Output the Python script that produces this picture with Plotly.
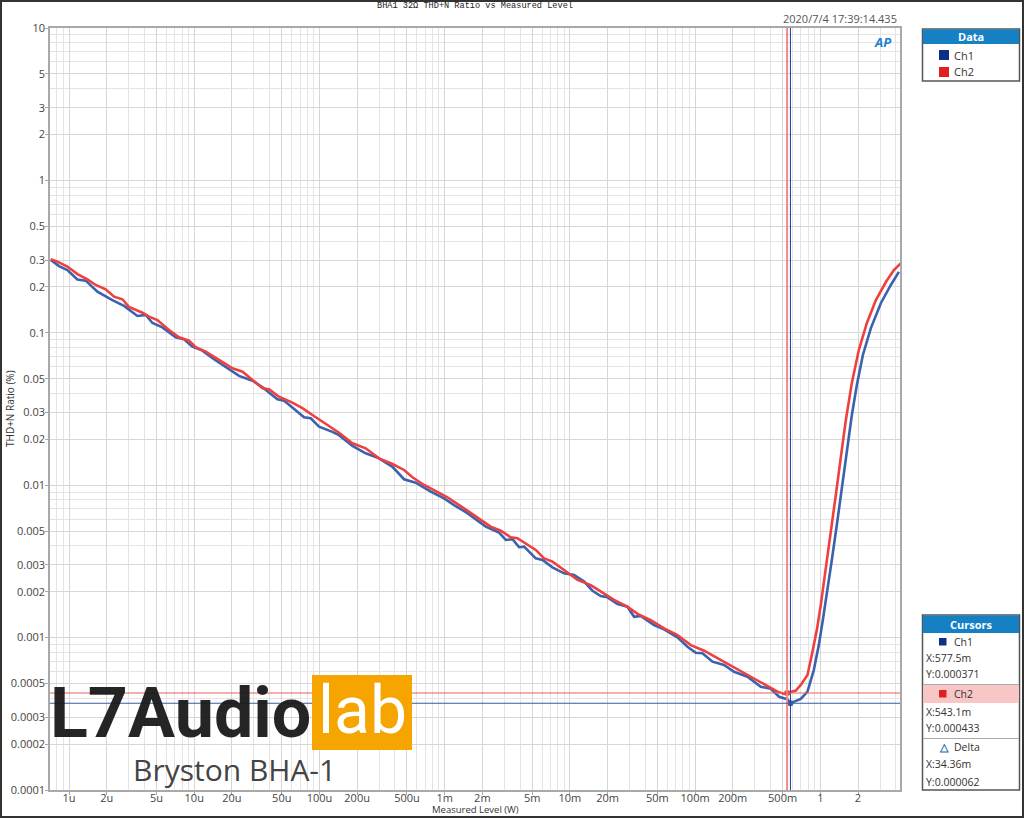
import plotly.graph_objects as go
import math

# ---------------- data ----------------
ch1_level = [7.14e-7, 8.32e-7, 9.71e-7, 1.167e-6, 1.36e-6, 1.686e-6, 2.22e-6, 2.75e-6, 3.52e-6, 4.10e-6,
             4.64e-6, 5.57e-6, 7.11e-6, 8.29e-6, 9.67e-6, 1.163e-5, 1.439e-5, 1.785e-5, 2.28e-5, 2.92e-5,
             3.51e-5, 4.62e-5, 5.22e-5, 6.08e-5, 7.53e-5, 8.52e-5, 9.93e-5, 1.27e-4, 1.434e-4, 1.835e-4,
             2.34e-4, 2.99e-4, 3.83e-4, 4.74e-4, 5.87e-4, 7.74e-4, 9.89e-4, 1.19e-3, 1.52e-3, 2.13e-3,
             2.72e-3, 3.08e-3, 3.48e-3, 3.93e-3, 4.31e-3, 5.34e-3, 6.04e-3, 7.26e-3, 8.99e-3, 1.08e-2,
             1.30e-2, 1.516e-2, 1.765e-2, 2.00e-2, 2.40e-2, 2.88e-2, 3.26e-2, 3.68e-2, 4.70e-2, 5.65e-2,
             7.23e-2, 8.69e-2, 0.1013, 0.1146, 0.1377, 0.1704, 0.2049, 0.262, 0.3348, 0.4024,
             0.469, 0.547, 0.5775, 0.6985, 0.790, 0.887, 0.973, 1.047, 1.127, 1.236,
             1.355, 1.486, 1.629, 1.786, 1.959, 2.188, 2.535, 3.05, 3.66, 4.24]
ch1_thdn = [0.301, 0.274, 0.258, 0.224, 0.220, 0.186, 0.164, 0.150, 0.129, 0.131,
            0.116, 0.1086, 0.0934, 0.0906, 0.0811, 0.0764, 0.0670, 0.0594, 0.0521, 0.0485,
            0.0439, 0.0366, 0.0358, 0.0324, 0.0279, 0.0275, 0.0242, 0.0224, 0.0213, 0.0181,
            0.0162, 0.0150, 0.0132, 0.01094, 0.01038, 0.00906, 0.0082, 0.00741, 0.00655, 0.00535,
            0.00488, 0.00437, 0.00442, 0.00392, 0.00395, 0.00331, 0.00323, 0.00289, 0.00264, 0.00258,
            0.00233, 0.00203, 0.001875, 0.001838, 0.00166, 0.001596, 0.00137, 0.001387, 0.00121, 0.001134,
            0.001005, 0.000871, 0.000796, 0.000789, 0.000695, 0.000661, 0.000597, 0.000554, 0.000476, 0.000462,
            0.000409, 0.000394, 0.000371, 0.000396, 0.000442, 0.000612, 0.000893, 0.0013, 0.0019, 0.00323,
            0.00548, 0.00973, 0.0170, 0.0289, 0.0454, 0.0715, 0.1074, 0.157, 0.206, 0.251]

ch2_level = [7.14e-7, 8.08e-7, 9.71e-7, 1.167e-6, 1.403e-6, 1.634e-6, 1.964e-6, 2.29e-6, 2.67e-6, 3.01e-6,
             3.86e-6, 4.36e-6, 5.08e-6, 6.29e-6, 7.56e-6, 9.09e-6, 1.028e-5, 1.236e-5, 1.578e-5, 2.02e-5,
             2.43e-5, 2.92e-5, 3.51e-5, 3.96e-5, 4.75e-5, 6.08e-5, 7.31e-5, 8.79e-5, 1.122e-4, 1.434e-4,
             1.835e-4, 2.34e-4, 2.99e-4, 3.83e-4, 4.74e-4, 5.53e-4, 6.85e-4, 8.23e-4, 1.052e-3, 1.429e-3,
             1.828e-3, 2.33e-3, 2.81e-3, 3.37e-3, 3.81e-3, 4.58e-3, 5.34e-3, 6.22e-3, 7.26e-3, 8.99e-3,
             1.150e-2, 1.469e-2, 1.765e-2, 2.25e-2, 2.88e-2, 3.47e-2, 4.43e-2, 5.65e-2, 7.23e-2, 9.24e-2,
             0.118, 0.1603, 0.218, 0.2786, 0.3787, 0.455, 0.514, 0.5431, 0.637, 0.6985,
             0.790, 0.855, 0.938, 1.009, 1.106, 1.213, 1.330, 1.459, 1.600, 1.786,
             2.03, 2.355, 2.78, 3.34, 3.87, 4.41]
ch2_thdn = [0.304, 0.293, 0.272, 0.243, 0.224, 0.206, 0.193, 0.1726, 0.166, 0.148,
            0.1355, 0.1276, 0.1213, 0.1043, 0.0934, 0.0887, 0.0804, 0.0752, 0.0664, 0.0585,
            0.0556, 0.0490, 0.0433, 0.0426, 0.0381, 0.0348, 0.0320, 0.0289, 0.0252, 0.0221,
            0.01884, 0.01746, 0.0150, 0.01377, 0.01259, 0.01127, 0.01003, 0.00931, 0.00833, 0.00705,
            0.00616, 0.00535, 0.00503, 0.00455, 0.00449, 0.00406, 0.00376, 0.00331, 0.00315, 0.00278,
            0.00239, 0.00221, 0.0020, 0.001766, 0.001596, 0.00143, 0.0013, 0.00115, 0.00104, 0.000893,
            0.00082, 0.000713, 0.000612, 0.000554, 0.000481, 0.000442, 0.000427, 0.000433, 0.000449, 0.000489,
            0.000569, 0.000769, 0.00112, 0.00164, 0.00278, 0.00493, 0.00863, 0.0153, 0.0268, 0.0469,
            0.0771, 0.116, 0.164, 0.2154, 0.258, 0.287]

cursor_ch1 = (0.5775, 0.000371)
cursor_ch2 = (0.5431, 0.000433)
cursor_text = {"ch1": ("X:577.5m", "Y:0.000371"),
               "ch2": ("X:543.1m", "Y:0.000433"),
               "delta": ("X:34.36m", "Y:0.000062")}

x_tickvals = [1e-6, 2e-6, 5e-6, 1e-5, 2e-5, 5e-5, 1e-4, 2e-4, 5e-4, 1e-3, 2e-3, 5e-3, 1e-2, 2e-2, 5e-2,
              0.1, 0.2, 0.5, 1, 2]
x_ticktext = ["1u", "2u", "5u", "10u", "20u", "50u", "100u", "200u", "500u", "1m", "2m", "5m", "10m",
              "20m", "50m", "100m", "200m", "500m", "1", "2"]
y_tickvals = [10, 5, 3, 2, 1, 0.5, 0.3, 0.2, 0.1, 0.05, 0.03, 0.02, 0.01, 0.005, 0.003, 0.002, 0.001,
              0.0005, 0.0003, 0.0002, 0.0001]
y_ticktext = ["10", "5", "3", "2", "1", "0.5", "0.3", "0.2", "0.1", "0.05", "0.03", "0.02", "0.01",
              "0.005", "0.003", "0.002", "0.001", "0.0005", "0.0003", "0.0002", "0.0001"]

title_text = "BHA1 32\u03a9 THD+N Ratio vs Measured Level"
timestamp = "2020/7/4 17:39:14.435"

# ---------------- layout helpers ----------------
W, H = 1024, 818
L, R, T, B = 50, 900, 28, 790


def px(x):
    return (x - L) / (R - L)


def py(y):
    return (B - y) / (B - T)


BLUE = "#3a62ad"
RED = "#ef4040"
HEAD = "#1581c4"
UI_FONT = "Open Sans"

fig = go.Figure()
fig.add_trace(go.Scatter(x=ch1_level, y=ch1_thdn, mode="lines", name="Ch1",
                         line=dict(color=BLUE, width=2.6)))
fig.add_trace(go.Scatter(x=ch2_level, y=ch2_thdn, mode="lines", name="Ch2",
                         line=dict(color=RED, width=2.6)))
fig.add_trace(go.Scatter(x=[cursor_ch1[0]], y=[cursor_ch1[1]], mode="markers",
                         marker=dict(color=BLUE, size=6), showlegend=False))
fig.add_trace(go.Scatter(x=[cursor_ch2[0]], y=[cursor_ch2[1]], mode="markers",
                         marker=dict(color=RED, size=6), showlegend=False))

minor_vals = [m * 10 ** e for e in range(-7, 2) for m in range(1, 10)]

axis_common = dict(type="log", showline=True, mirror=True, linecolor="#a9a9a9", linewidth=1.5,
                   gridcolor="#d6d6d6", gridwidth=1, zeroline=False, ticks="outside", ticklen=3,
                   tickcolor="#a9a9a9", automargin=False,
                   tickfont=dict(family=UI_FONT, size=11, color="#444"))
fig.update_xaxes(range=[math.log10(7.05e-7), math.log10(4.33)], tickmode="array",
                 tickvals=x_tickvals, ticktext=x_ticktext, ticklabelstandoff=-6,
                 minor=dict(tickmode="array", tickvals=minor_vals, showgrid=True, gridcolor="#e4e4e4",
                            ticks=""), **axis_common)
fig.update_yaxes(range=[-4, 1], tickmode="array", tickvals=y_tickvals, ticktext=y_ticktext,
                 ticklabelstandoff=-2,
                 minor=dict(tickmode="array", tickvals=minor_vals, showgrid=True, gridcolor="#e4e4e4",
                            ticks=""), **axis_common)

shapes = []
# cursor lines
shapes.append(dict(type="line", xref="x", yref="paper", x0=cursor_ch2[0], x1=cursor_ch2[0], y0=0, y1=1,
                   line=dict(color="#f08a8a", width=2), layer="above"))
shapes.append(dict(type="line", xref="x", yref="paper", x0=cursor_ch1[0], x1=cursor_ch1[0], y0=0, y1=1,
                   line=dict(color="#1f3b9a", width=1), layer="above"))
shapes.append(dict(type="line", xref="paper", yref="y", x0=0, x1=1, y0=cursor_ch2[1], y1=cursor_ch2[1],
                   line=dict(color="#e86060", width=1.2), layer="above"))
shapes.append(dict(type="line", xref="paper", yref="y", x0=0, x1=1, y0=cursor_ch1[1], y1=cursor_ch1[1],
                   line=dict(color="#3858a8", width=1.2), layer="above"))
# orange logo box
shapes.append(dict(type="rect", xref="paper", yref="paper", x0=px(312), x1=px(412), y0=py(750), y1=py(675),
                   fillcolor="#f6a400", line=dict(width=0), layer="above"))

# Data legend panel
shapes.append(dict(type="rect", xref="paper", yref="paper", x0=px(922.5), x1=px(1019.5), y0=py(81), y1=py(29),
                   fillcolor="white", line=dict(color="#555", width=1.5)))
shapes.append(dict(type="rect", xref="paper", yref="paper", x0=px(923), x1=px(1019), y0=py(44), y1=py(29.5),
                   fillcolor=HEAD, line=dict(width=0)))
shapes.append(dict(type="rect", xref="paper", yref="paper", x0=px(939), x1=px(949), y0=py(60), y1=py(50),
                   fillcolor="#0d2f86", line=dict(width=0)))
shapes.append(dict(type="rect", xref="paper", yref="paper", x0=px(939), x1=px(949), y0=py(77), y1=py(67),
                   fillcolor="#e02020", line=dict(width=0)))

# Cursors panel
shapes.append(dict(type="rect", xref="paper", yref="paper", x0=px(922.5), x1=px(1019.5), y0=py(790), y1=py(615),
                   fillcolor="white", line=dict(color="#555", width=1.5)))
shapes.append(dict(type="rect", xref="paper", yref="paper", x0=px(923), x1=px(1019), y0=py(633), y1=py(615.5),
                   fillcolor=HEAD, line=dict(width=0)))
shapes.append(dict(type="rect", xref="paper", yref="paper", x0=px(923), x1=px(1019), y0=py(703), y1=py(685),
                   fillcolor="#f9c6c6", line=dict(width=0)))
shapes.append(dict(type="line", xref="paper", yref="paper", x0=px(923), x1=px(1019), y0=py(684.5), y1=py(684.5),
                   line=dict(color="#aaa", width=1)))
shapes.append(dict(type="line", xref="paper", yref="paper", x0=px(923), x1=px(1019), y0=py(738.5), y1=py(738.5),
                   line=dict(color="#aaa", width=1)))
shapes.append(dict(type="rect", xref="paper", yref="paper", x0=px(939), x1=px(946.5), y0=py(645.5), y1=py(638),
                   fillcolor="#0d2f86", line=dict(width=0)))
shapes.append(dict(type="rect", xref="paper", yref="paper", x0=px(939), x1=px(946.5), y0=py(697.5), y1=py(690),
                   fillcolor="#e02020", line=dict(width=0)))
# outer frame
shapes.append(dict(type="rect", xref="paper", yref="paper", x0=px(1), x1=px(1023), y0=py(817), y1=py(1),
                   fillcolor="rgba(0,0,0,0)", line=dict(color="#333", width=2)))

ann = []


def text(x, y, s, size=11, color="#333", family=UI_FONT, xanchor="left", yanchor="middle", **kw):
    ann.append(dict(x=px(x), y=py(y), xref="paper", yref="paper", text=s, showarrow=False,
                    xanchor=xanchor, yanchor=yanchor, font=dict(size=size, color=color, family=family), **kw))


text(475, 5.5, title_text, size=8.6, color="#222", family="Liberation Mono", xanchor="center")
text(898.5, 18, timestamp, size=11, color="#555", xanchor="right")
text(882, 42, "<b><i>AP</i></b>", size=13, color="#1f7fd0", xanchor="center")
text(10, 409, "THD+N Ratio (%)", size=10, color="#333", xanchor="center", textangle=-90)
text(475, 809.5, "Measured Level (W)", size=9.5, color="#333", xanchor="center")

# legend panel text
text(971, 37, "<b>Data</b>", size=11, color="white", xanchor="center")
text(951.5, 55.5, "Ch1", size=11, color="#333")
text(951.5, 72, "Ch2", size=11, color="#333")

# cursor panel text
text(971, 624, "<b>Cursors</b>", size=11, color="white", xanchor="center")
text(951.5, 641.5, "Ch1", size=10.5, color="#333")
text(924, 657.5, cursor_text["ch1"][0], size=10.5, color="#333")
text(924, 674, cursor_text["ch1"][1], size=10.5, color="#333")
text(951.5, 694, "Ch2", size=10.5, color="#333")
text(924, 711.5, cursor_text["ch2"][0], size=10.5, color="#333")
text(924, 727.5, cursor_text["ch2"][1], size=10.5, color="#333")
text(937, 746.5, "<b>\u25b3</b>", size=11, color="#2a6db5")
text(951.5, 746.5, "Delta", size=10.5, color="#333")
text(924, 764, cursor_text["delta"][0], size=10.5, color="#333")
text(924, 781.5, cursor_text["delta"][1], size=10.5, color="#333")

# watermark logo
text(48, 713, "<b>L7Audio</b>", size=70, color="rgba(25,25,25,0.95)", family="Roboto")
text(362, 710, "lab", size=66, color="white", family="Roboto", xanchor="center")
text(234, 769.5, "Bryston BHA-1", size=30, color="#444", xanchor="center")

fig.update_layout(width=W, height=H, margin=dict(l=L, r=W - R, t=T, b=H - B, autoexpand=False),
                  paper_bgcolor="white", plot_bgcolor="white", showlegend=False,
                  shapes=shapes, annotations=ann)

post = (
    "var d=document.getElementById('{plot_id}');"
    "document.documentElement.style.cssText='margin:0;padding:0;overflow:hidden;height:818px;width:1024px';"
    "document.body.style.cssText='margin:0;padding:0;overflow:hidden;height:818px;width:1024px;line-height:0;font-size:0';"
    "if(d&&d.parentElement){d.parentElement.style.cssText='height:818px;width:1024px;overflow:hidden;line-height:0;font-size:0';}"
)
fig.write_html("out.html", config={"displayModeBar": False}, post_script=post)
